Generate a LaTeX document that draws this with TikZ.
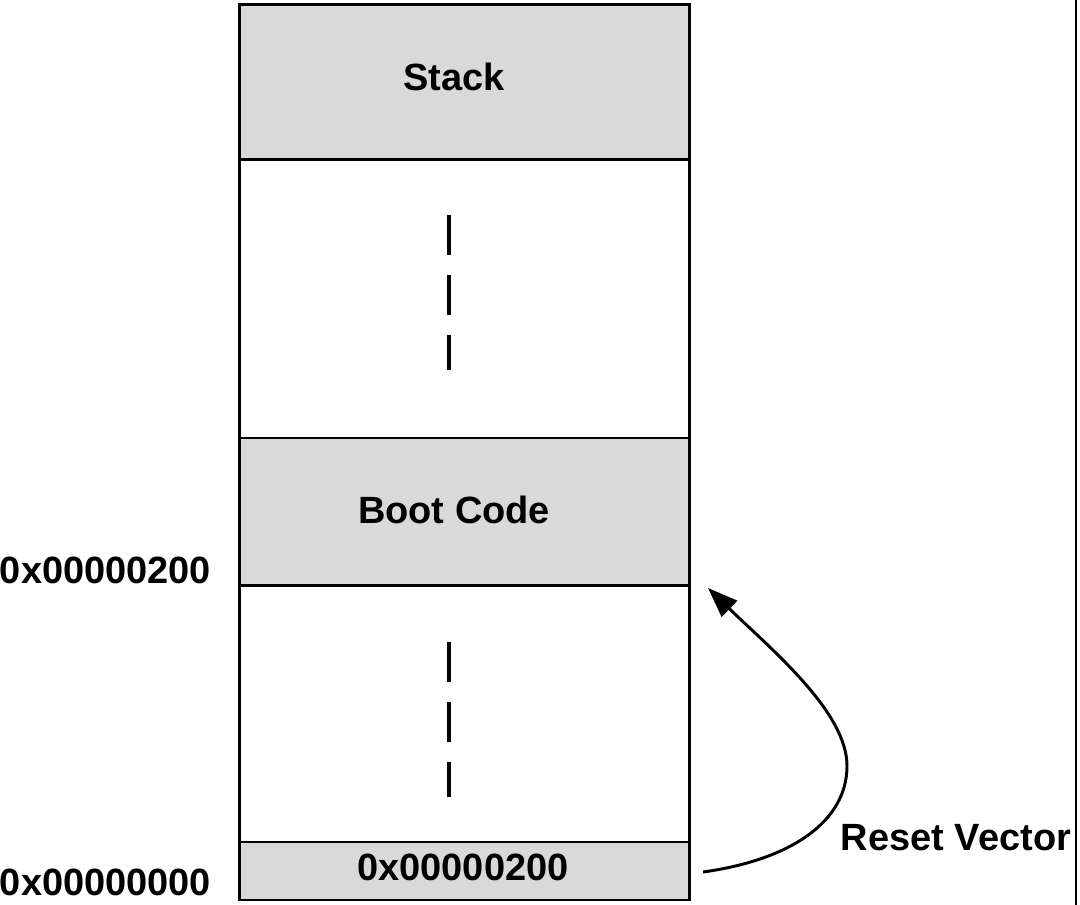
\documentclass[tikz,border=0pt]{standalone}
\usepackage{fontspec}
\setmainfont{Liberation Sans}
\usetikzlibrary{arrows.meta}
\definecolor{memgray}{HTML}{D9D9D9}

\begin{document}
\begin{tikzpicture}[x=0.025cm,y=-0.025cm,
    every node/.style={font=\fontsize{27}{32}\selectfont\bfseries},
    region/.style={rectangle,draw=black,line width=2.1pt,minimum width=11.225cm,inner sep=0pt},
    filled/.style={region,fill=memgray},
    gap/.style={line width=2.8pt,dash pattern=on 1cm off 0.5cm}]
    \useasboundingbox (0,0) rectangle (1080,905);

    \node[filled,minimum height=3.875cm] (stack) at (464.5,82.5) {};
    \node[region,minimum height=6.95cm] (upper) at (464.5,299) {};
    \node[filled,minimum height=3.7cm] (boot) at (464.5,512) {};
    \node[region,minimum height=6.4cm] (lower) at (464.5,714) {};
    \node[filled,minimum height=1.45cm] (vec) at (464.5,871) {};

    \node (stacktext) at (454,77) {Stack};
    \node (boottext) at (454,510) {Boot Code};
    \node (vectext) at (463,867) {0x00000200};

    \node[anchor=west] (addrboot) at (-5,570) {0x00000200};
    \node[anchor=west] (addrzero) at (-5,882) {0x00000000};
    \node[anchor=west] (rvlabel) at (836,838) {Reset Vector};

    % dots between regions
    \draw[gap] (449,215) -- (449,370);
    \draw[gap] (449,642) -- (449,797);

    \coordinate (rvstart) at (703,872);
    \coordinate (rvturn) at (847,766);
    \coordinate (rvend) at (708,588);
    \draw[line width=2.1pt,-{Triangle[length=0.75cm,width=0.55cm]}]
        (rvstart) .. controls (790,860) and (847,822) .. (rvturn)
        .. controls (847,712) and (772,650) .. (rvend);

    \draw[line width=2.1pt] (1076,0) -- (1076,905);
  \end{tikzpicture}
\end{document}
